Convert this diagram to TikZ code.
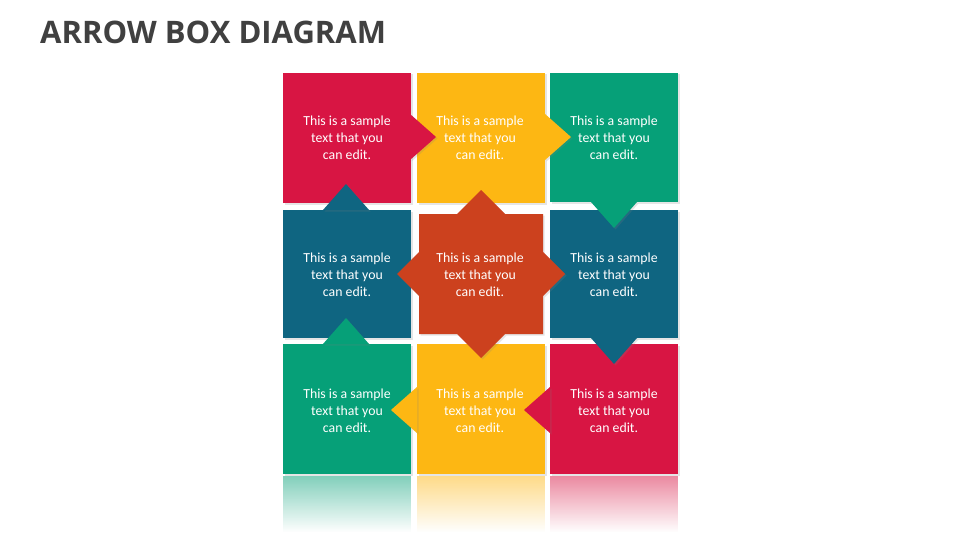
\documentclass[tikz,border=0pt]{standalone}
\usepackage{fontspec}
\setmainfont{Carlito}
\newfontfamily\titlefont{Open Sans}
\usetikzlibrary{fadings,shadows}
\def\W{960}
\def\H{540}
\def\T{26}
\def\B{23}
\definecolor{txtcolor}{RGB}{64,64,64}
\definecolor{redbox}{RGB}{216,21,67}
\definecolor{yellowbox}{RGB}{253,183,19}
\definecolor{greenbox}{RGB}{6,160,120}
\definecolor{bluebox}{RGB}{15,101,129}
\definecolor{starbox}{RGB}{204,65,30}
\tikzset{
  boxtext/.style={text=white,align=center,font=\fontsize{13.8}{17}\selectfont},
  boxshadow/.style={drop shadow={opacity=0.2,shadow xshift=1.5pt,shadow yshift=-1.5pt}},
}

\begin{document}
\begin{tikzpicture}[x=1pt,y=-1pt]
\fill[white] (0,0) rectangle (\W,\H);
\node[anchor=base west,inner sep=0pt,text=txtcolor,font=\titlefont\bfseries\fontsize{31}{35}\selectfont] (title) at (40,44) {ARROW BOX DIAGRAM};
% reflections
\foreach \x/\c in {283/greenbox,417/yellowbox,550/redbox}{
    \fill[\c,opacity=0.5,path fading=south] (\x,476) rectangle ++(128,56);
}
% boxes
\foreach \x/\y/\h/\c in {283/73/130/redbox, 417/73/130/yellowbox, 550/73/129/greenbox,
    283/210/128/bluebox, 550/210/128/bluebox,
    283/344/130/greenbox, 417/344/130/yellowbox, 550/344/130/redbox}{
    \fill[\c,boxshadow] (\x,\y) rectangle ++(128,\h);
}
% arrows: base centre, direction, colour
\foreach \bx/\by/\dx/\dy/\c in {410/137/1/0/redbox, 545/137/1/0/yellowbox, 614/202/0/1/greenbox,
    614/338/0/1/bluebox, 550/410/-1/0/redbox, 417/410/-1/0/yellowbox,
    346/344/0/-1/greenbox, 346/210/0/-1/bluebox}{
    \fill[\c,boxshadow] (\bx-\B*\dy,\by-\B*\dx) -- (\bx+\T*\dx,\by+\T*\dy) -- (\bx+\B*\dy,\by+\B*\dx) -- cycle;
}
% star
\fill[starbox,boxshadow] (481,190) -- (505,214) -- (543,214) -- (543,252) -- (565,274) -- (543,296)
    -- (543,334) -- (505,334) -- (481,358) -- (457,334) -- (419,334) -- (419,296) -- (397,274)
    -- (419,252) -- (419,214) -- (457,214) -- cycle;
% texts
\foreach \x/\y/\n in {347/138/a, 480/138/b, 614/138/c, 347/275/d, 480/275/e, 614/275/f,
    347/411/g, 480/411/h, 614/411/i}{
    \node[boxtext] (t\n) at (\x,\y) {This is a sample\\text that you\\can edit.};
}
\end{tikzpicture}
\end{document}
